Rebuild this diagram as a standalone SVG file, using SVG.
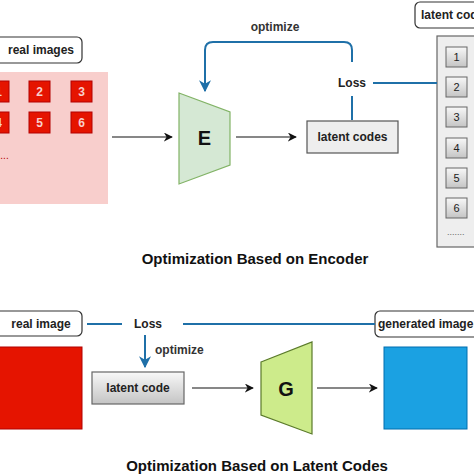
<svg xmlns="http://www.w3.org/2000/svg" width="474" height="474" viewBox="0 0 474 474">
<style>
text{font-family:"Liberation Sans",Arial,sans-serif;}
.lbl{font-size:12px;font-weight:bold;fill:#222;text-anchor:middle;dominant-baseline:central;}
.title{font-size:15px;font-weight:bold;fill:#111;text-anchor:middle;dominant-baseline:central;}
.tag{fill:#fff;stroke:#333;stroke-width:1.2;}
.rsq{fill:#e51400;stroke:#b20000;stroke-width:1;}
.rnum{font-size:12px;font-weight:bold;fill:#f8cecc;text-anchor:middle;dominant-baseline:central;}
.gsq{fill:url(#gg);stroke:#666;stroke-width:1;}
.gnum{font-size:11px;fill:#222;text-anchor:middle;dominant-baseline:central;}
.blk{stroke:#111;stroke-width:1.2;fill:none;}
.blue{stroke:#1f70a8;stroke-width:2;fill:none;}
</style>
<defs>
<linearGradient id="gg" x1="0" y1="0" x2="0" y2="1"><stop offset="0" stop-color="#f8f8f8"/><stop offset="1" stop-color="#c4c4c4"/></linearGradient>
<marker id="ab" viewBox="0 0 10 10" refX="9" refY="5" markerWidth="9" markerHeight="9" orient="auto" markerUnits="userSpaceOnUse"><path d="M0,0 L10,5 L0,10 L3,5 Z" fill="#111"/></marker>
<marker id="abl" viewBox="0 0 10 10" refX="9" refY="5" markerWidth="12" markerHeight="12" orient="auto" markerUnits="userSpaceOnUse"><path d="M0,0 L10,5 L0,10 L3,5 Z" fill="#1f70a8"/></marker>
</defs>

<g id="real-images-panel">
<rect x="-2" y="72" width="110" height="132" fill="#f8cecc"/>
<rect class="rsq" x="-12" y="81" width="21" height="21"/><text class="rnum" x="-1.5" y="92">1</text>
<rect class="rsq" x="29" y="81" width="21" height="21"/><text class="rnum" x="39.5" y="92">2</text>
<rect class="rsq" x="71" y="81" width="21" height="21"/><text class="rnum" x="81.5" y="92">3</text>
<rect class="rsq" x="-12" y="112" width="21" height="21"/><text class="rnum" x="-1.5" y="123">4</text>
<rect class="rsq" x="29" y="112" width="21" height="21"/><text class="rnum" x="39.5" y="123">5</text>
<rect class="rsq" x="71" y="112" width="21" height="21"/><text class="rnum" x="81.5" y="123">6</text>
<text x="-8" y="155" font-size="10" fill="#b20000" dominant-baseline="central">......</text>
</g>
<g id="real-images-label">
<rect class="tag" x="-6" y="37" width="88" height="26" rx="5"/>
<text class="lbl" x="41" y="50">real images</text>
</g>
<g id="encoder">
<path d="M179,93 L230,112 L230,165 L179,184 Z" fill="#d5e8d4" stroke="#82b366" stroke-width="1.2"/>
<text x="204.5" y="138" font-size="20" font-weight="bold" fill="#111" text-anchor="middle" dominant-baseline="central">E</text>
</g>
<g id="latent-codes">
<rect x="307" y="121" width="91" height="32" fill="#eeeeee" stroke="#555" stroke-width="1.2"/>
<text class="lbl" x="352.5" y="137">latent codes</text>
</g>
<g id="latent-codes-panel">
<rect x="437" y="36" width="45" height="211" fill="#eeeeee" stroke="#666" stroke-width="1.2"/>
<rect class="gsq" x="446" y="47" width="21" height="20"/><text class="gnum" x="456.5" y="57">1</text>
<rect class="gsq" x="446" y="77" width="21" height="20"/><text class="gnum" x="456.5" y="87">2</text>
<rect class="gsq" x="446" y="107" width="21" height="20"/><text class="gnum" x="456.5" y="117">3</text>
<rect class="gsq" x="446" y="138" width="21" height="20"/><text class="gnum" x="456.5" y="148">4</text>
<rect class="gsq" x="446" y="168" width="21" height="20"/><text class="gnum" x="456.5" y="178">5</text>
<rect class="gsq" x="446" y="198" width="21" height="20"/><text class="gnum" x="456.5" y="208">6</text>
<text x="447" y="232" font-size="9" fill="#666" dominant-baseline="central">.......</text>
</g>
<g id="latent-codes-label">
<rect class="tag" x="415" y="2" width="80" height="26" rx="5"/>
<text class="lbl" x="421" y="15" style="text-anchor:start">latent codes</text>
</g>
<g id="title-encoder"><text class="title" x="255" y="258">Optimization Based on Encoder</text></g>

<g id="real-image">
<rect x="-2" y="347" width="84" height="82" fill="#e51400" stroke="#b20000" stroke-width="1"/>
</g>
<g id="real-image-label">
<rect class="tag" x="-6" y="311" width="88" height="25" rx="5"/>
<text class="lbl" x="41" y="324">real image</text>
</g>
<g id="latent-code">
<rect x="92" y="372" width="92" height="32" fill="url(#gg)" stroke="#666" stroke-width="1.2"/>
<text class="lbl" x="138" y="388">latent code</text>
</g>
<g id="generator">
<path d="M261,362 L312,342 L312,434 L261,415 Z" fill="#cdeb8b" stroke="#5a7a2a" stroke-width="1.2"/>
<text x="286" y="389" font-size="20" font-weight="bold" fill="#111" text-anchor="middle" dominant-baseline="central">G</text>
</g>
<g id="generated-image">
<rect x="384" y="347" width="83" height="82" fill="#1ba1e2" stroke="#006eaf" stroke-width="1"/>
</g>
<g id="generated-image-label">
<rect class="tag" x="375" y="311" width="110" height="26" rx="5"/>
<text class="lbl" x="378" y="324" style="text-anchor:start">generated image</text>
</g>
<g id="title-latent"><text class="title" x="257" y="465">Optimization Based on Latent Codes</text></g>

<g id="connectors">
<line class="blk" x1="112" y1="137" x2="172" y2="137" marker-end="url(#ab)"/>
<line class="blk" x1="236" y1="137" x2="296" y2="137" marker-end="url(#ab)"/>
<path class="blue" d="M352,62 L352,50 Q352,42 344,42 L213,42 Q205,42 205,50 L205,91" marker-end="url(#abl)"/>
<line class="blue" x1="352" y1="96" x2="352" y2="120"/>
<line class="blue" x1="373" y1="83" x2="437" y2="83"/>
<text class="lbl" x="352" y="83">Loss</text>
<text x="275" y="27" font-size="12" font-weight="bold" fill="#333" text-anchor="middle" dominant-baseline="central">optimize</text>

<line class="blk" x1="192" y1="388" x2="253" y2="388" marker-end="url(#ab)"/>
<line class="blk" x1="317" y1="388" x2="377" y2="388" marker-end="url(#ab)"/>
<line class="blue" x1="87" y1="324" x2="122" y2="324"/>
<line class="blue" x1="183" y1="324" x2="375" y2="324"/>
<text class="lbl" x="148" y="324">Loss</text>
<line class="blue" x1="145" y1="335" x2="145" y2="367" marker-end="url(#abl)"/>
<text x="155" y="350" font-size="12" font-weight="bold" fill="#333" dominant-baseline="central">optimize</text>
</g>
</svg>
